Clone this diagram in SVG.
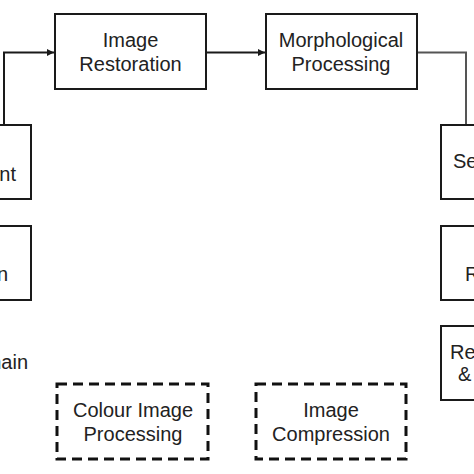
<svg xmlns="http://www.w3.org/2000/svg" width="474" height="474" viewBox="0 0 474 474">
<style>
.box{fill:#fff;stroke:#1a1a1a;stroke-width:2}
.dash{fill:#fff;stroke:#111;stroke-width:3;stroke-dasharray:10 6}
.t{font-family:"Liberation Sans",Arial,sans-serif;font-size:20px;fill:#222}
.c{text-anchor:middle}
.ln{fill:none;stroke:#1a1a1a;stroke-width:2}
</style>
<defs>
<marker id="ah" viewBox="0 0 10 10" refX="10" refY="5" markerWidth="7" markerHeight="7" orient="auto" markerUnits="userSpaceOnUse">
<path d="M0,0 L10,5 L0,10 z" fill="#1a1a1a"/>
</marker>
</defs>
<rect width="474" height="474" fill="#fff"/>
<g id="connectors">
<path class="ln" d="M4,125 V52.5 H54" marker-end="url(#ah)"/>
<path class="ln" d="M206,52.5 H265" marker-end="url(#ah)"/>
<path class="ln" d="M417,52.5 H466 V125" style="stroke:#555"/>
</g>
<g id="enhancement">
<rect class="box" x="-60" y="125" width="91" height="74"/>
<text class="t" x="16" y="181" text-anchor="end">nt</text>
</g>
<g id="left2">
<rect class="box" x="-60" y="226" width="91" height="74"/>
<text class="t" x="8" y="281" text-anchor="end">n</text>
</g>
<g id="domain">
<text class="t" x="28" y="369" text-anchor="end">nain</text>
</g>
<g id="restoration">
<rect class="box" x="55" y="14" width="151" height="75"/>
<text class="t c" x="130.5" y="46.5">Image</text>
<text class="t c" x="130.5" y="70.5">Restoration</text>
</g>
<g id="morphological">
<rect class="box" x="266" y="14" width="151" height="75"/>
<text class="t c" x="341" y="46.5">Morphological</text>
<text class="t c" x="341" y="70.5">Processing</text>
</g>
<g id="segmentation">
<rect class="box" x="441" y="125" width="80" height="74"/>
<text class="t" x="453" y="168">Se</text>
</g>
<g id="recognition">
<rect class="box" x="441" y="226" width="80" height="74"/>
<text class="t" x="465" y="281">R</text>
</g>
<g id="representation">
<rect class="box" x="441" y="326" width="80" height="74"/>
<text class="t" x="450" y="359">Re</text>
<text class="t" x="458" y="381">&amp;</text>
</g>
<g id="colour">
<rect class="dash" x="57" y="384" width="151" height="75"/>
<text class="t c" x="133" y="417">Colour Image</text>
<text class="t c" x="133" y="441">Processing</text>
</g>
<g id="compression">
<rect class="dash" x="256" y="384" width="150" height="75"/>
<text class="t c" x="331" y="417">Image</text>
<text class="t c" x="331" y="441">Compression</text>
</g>
</svg>
